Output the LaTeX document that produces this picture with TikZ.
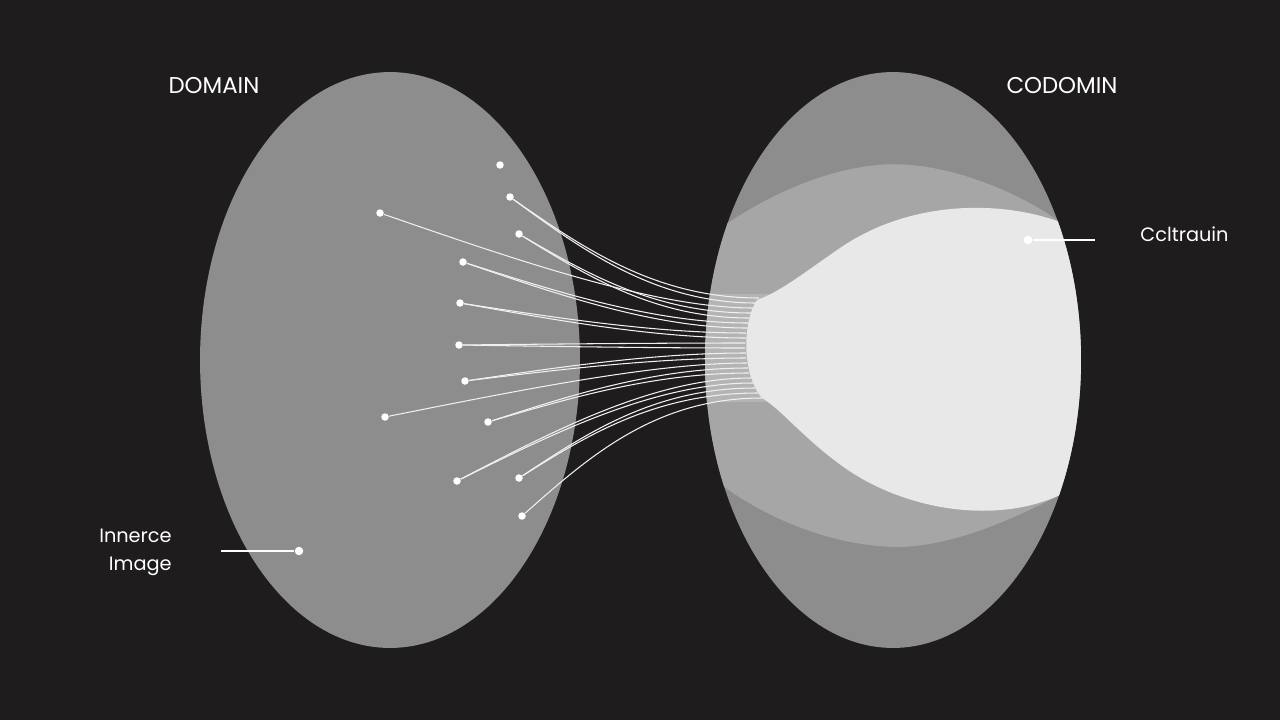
\documentclass[tikz,border=0pt]{standalone}
\usepackage{fontspec}
\setmainfont{Poppins}
\usetikzlibrary{calc}
\definecolor{bg}{HTML}{1E1C1C}
\definecolor{ellgray}{HTML}{8D8D8D}
\definecolor{bandgray}{HTML}{A6A6A6}
\definecolor{fibzone}{HTML}{B4B4B4}
\definecolor{inner}{HTML}{E8E8E8}
\tikzset{
  dot/.style={circle, fill=white, draw=none, inner sep=0pt, minimum size=0.15cm},
  fiber/.style={draw=white!88!gray, line width=0.6pt},
  leader/.style={draw=white, line width=1.1pt},
  lbl/.style={text=white, font=\fontsize{13}{16}\selectfont, inner sep=0pt},
  smalllbl/.style={text=white, font=\fontsize{11}{14}\selectfont, inner sep=0pt},
}
\begin{document}
\begin{tikzpicture}[x=0.02cm, y=-0.02cm]
\fill[bg] (0,0) rectangle (1280,720);
\useasboundingbox (0,0) rectangle (1280,720);

% domain ellipse
\fill[ellgray] (390,360) ellipse [x radius=3.8cm, y radius=5.76cm];

% codomain ellipse with layers
\fill[ellgray] (893,360) ellipse [x radius=3.76cm, y radius=5.76cm];
\begin{scope}
  \clip (893,360) ellipse [x radius=3.76cm, y radius=5.76cm];
  % lighter band
  \fill[bandgray] (690,234) -- (722,227)
     .. controls (790,180) and (860,160) .. (910,165)
     .. controls (970,170) and (1030,200) .. (1060,222)
     -- (1100,236) -- (1100,490) -- (1060,495)
     .. controls (1020,515) and (960,545) .. (900,547)
     .. controls (830,547) and (760,515) .. (718,482)
     -- (690,465) -- cycle;
  % fiber zone
  \fill[fibzone] (690,294) rectangle (770,402);
  % codomain image (white region)
  \fill[inner] (1100,228) -- (1060,222)
     .. controls (1000,200) and (910,200) .. (840,248)
     .. controls (805,272) and (780,292) .. (757,300)
     .. controls (742,322) and (742,375) .. (762,398)
     .. controls (782,410) and (805,440) .. (845,468)
     .. controls (905,510) and (995,525) .. (1060,495)
     -- (1100,490) -- cycle;
\end{scope}

% domain points
\node[dot] (d1) at (500,165) {};
\node[dot] (d2) at (510,197) {};
\node[dot] (d3) at (380,213) {};
\node[dot] (d4) at (519,234) {};
\node[dot] (d5) at (463,262) {};
\node[dot] (d6) at (460,303) {};
\node[dot] (d7) at (459,345) {};
\node[dot] (d8) at (465,381) {};
\node[dot] (d9) at (385,417) {};
\node[dot] (d10) at (488,422) {};
\node[dot] (d11) at (457,481) {};
\node[dot] (d12) at (519,478) {};
\node[dot] (d13) at (522,516) {};

% fibers
\foreach \d/\e/\x in {d2/298/759, d2/303/756, d3/308/753, d4/313/751, d4/318/749,
  d5/323/748, d5/328/747, d6/333/746, d6/338/746, d7/343/745, d7/348/745,
  d8/353/746, d8/358/746, d9/363/747, d10/368/748, d10/373/749,
  d11/378/751, d11/383/753, d12/388/755, d12/393/758, d13/398/762} {
  \coordinate (e-\d-\e) at (\x,\e);
  \draw[fiber] (\d) .. controls ($(\d)!0.5!(655,\e)$) and (655,\e) .. (e-\d-\e);
}

% labels
\node[lbl] (domain) at (214,86) {DOMAIN};
\node[lbl] (codomain) at (1062,86) {CODOMIN};

\node[dot, minimum size=0.17cm] (ii) at (299,551) {};
\coordinate (iiL) at (221,551);
\draw[leader] (iiL) -- (ii);
\node[smalllbl, align=right, anchor=east, font=\fontsize{11}{16}\selectfont] (inv) at (172,552) {Innerce\\Image};

\node[dot, minimum size=0.17cm] (cd) at (1028,240) {};
\coordinate (cdR) at (1095,240);
\draw[leader] (cd) -- (cdR);
\node[smalllbl, anchor=west] (ccl) at (1140,234) {Ccltrauin};
\end{tikzpicture}
\end{document}
